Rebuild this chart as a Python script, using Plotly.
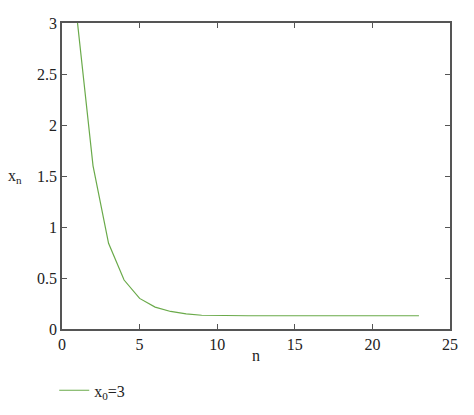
import plotly.graph_objects as go

n_vals = list(range(1, 24))
x_vals = [3.0, 1.6, 0.84, 0.48, 0.3, 0.215, 0.172, 0.148, 0.135, 0.131,
          0.13, 0.13, 0.13, 0.13, 0.13, 0.13, 0.13, 0.13, 0.13, 0.13,
          0.13, 0.13, 0.13]
x_ticks = [0, 5, 10, 15, 20, 25]
y_ticks = [0, 0.5, 1, 1.5, 2, 2.5, 3]
series_name = "x<sub>0</sub>=3"

FONT = "Liberation Serif"
fig = go.Figure()
fig.add_trace(go.Scatter(x=n_vals, y=x_vals, mode="lines", name=series_name,
                         line=dict(color="#6aaa4a", width=1.2)))

axis_common = dict(showgrid=False, zeroline=False, showline=True, mirror="ticks",
                   linecolor="#555555", linewidth=1.5, ticks="inside", ticklen=5,
                   automargin=False,
                   tickcolor="#555555", tickfont=dict(family=FONT, size=16, color="#222222"))

fig.update_layout(
    width=474, height=415,
    margin=dict(l=62, r=24, t=23, b=86, autoexpand=False),
    paper_bgcolor="white", plot_bgcolor="white",
    font=dict(family=FONT, size=16, color="#222222"),
    xaxis=dict(range=[0, 25], tickvals=x_ticks, **axis_common),
    yaxis=dict(range=[0, 3], tickvals=y_ticks, **axis_common),
    showlegend=True,
    legend=dict(orientation="h", x=-0.02, y=-0.145, xanchor="left", yanchor="top",
                font=dict(family=FONT, size=16, color="#222222")),
    annotations=[
        dict(text="x<sub>n</sub>", xref="paper", yref="paper", x=-0.12, y=0.5,
             xanchor="center", yanchor="middle", showarrow=False,
             font=dict(family=FONT, size=16, color="#222222")),
        dict(text="n", xref="paper", yref="paper", x=0.5, y=-0.088,
             xanchor="center", yanchor="middle", showarrow=False,
             font=dict(family=FONT, size=16, color="#222222")),
    ],
)
fig.write_html("out.html", post_script="document.body.style.margin='0';",
               config={"displayModeBar": False})
